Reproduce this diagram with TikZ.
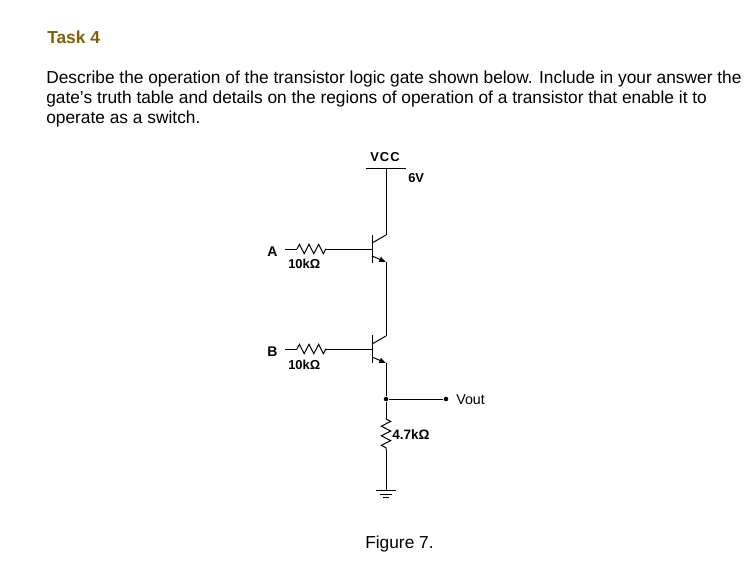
\documentclass[tikz,border=0pt]{standalone}
\usepackage{fontspec}
\setmainfont{Liberation Sans}
\usetikzlibrary{positioning, arrows.meta, decorations.pathmorphing}
\definecolor{taskbrown}{HTML}{806000}
\tikzset{
  para/.style={anchor=base west, inner sep=0pt, font=\fontsize{13}{15}\selectfont},
  partlabel/.style={anchor=base west, inner sep=0pt, font=\fontsize{9.7}{11}\selectfont\bfseries},
  wire/.style={line width=0.75pt},
  emitter/.style={wire, -{Latex[length=5pt, width=4.5pt]}},
  resistor/.style={wire, decorate, decoration={zigzag, amplitude=3.5pt, segment length=7.2pt}},
  dot/.style={circle, fill=black, inner sep=0pt, minimum size=3.4pt}
}
\begin{document}
\begin{tikzpicture}[x=0.75pt, y=-0.75pt]
  \useasboundingbox (0,0) rectangle (750,568);
  \node[para, text=taskbrown, font=\fontsize{13}{15}\selectfont\bfseries] (task) at (47,43) {Task 4};
  \node[para] (line1) at (46,83) {Describe the operation of the transistor logic gate shown below. Include in your answer the};
  \node[para] (line2) at (46,103) {gate’s truth table and details on the regions of operation of a transistor that enable it to};
  \node[para] (line3) at (46,123) {operate as a switch.};

  % supply rail
  \coordinate (railL) at (366,168);
  \coordinate (railR) at (406,168);
  \coordinate (rail) at (386,168);
  \draw[wire] (railL) -- (railR);
  \node[partlabel, font=\fontsize{9.7}{11}\selectfont\bfseries\addfontfeature{LetterSpace=8}] (vcc) at (370,161) {VCC};
  \node[partlabel] (six) at (408,182) {6V};

  % upper transistor
  \coordinate (Ain) at (285,249);
  \coordinate (Ar1) at (297,249);
  \coordinate (Ar2) at (326,249);
  \coordinate (Abase) at (372,249);
  \coordinate (Abt) at (372,235);
  \coordinate (Abb) at (372,263);
  \coordinate (Ac0) at (372,243);
  \coordinate (Ac) at (386,235);
  \coordinate (Ae0) at (372,256);
  \coordinate (Ae) at (386,262);
  \node[partlabel, font=\fontsize{10.5}{12}\selectfont\bfseries] (A) at (267,256) {A};
  \node[partlabel] (RA) at (288,268) {10kΩ};
  \draw[wire] (Ain) -- (Ar1);
  \draw[resistor] (Ar1) -- (Ar2);
  \draw[wire] (Ar2) -- (Abase);
  \draw[wire] (Abt) -- (Abb);
  \draw[wire] (Ac0) -- (Ac);
  \draw[emitter] (Ae0) -- (Ae);
  \draw[wire] (rail) -- (Ac);

  % lower transistor
  \coordinate (Bin) at (285,349);
  \coordinate (Br1) at (297,349);
  \coordinate (Br2) at (326,349);
  \coordinate (Bbase) at (372,349);
  \coordinate (Bbt) at (372,335);
  \coordinate (Bbb) at (372,363);
  \coordinate (Bc0) at (372,344);
  \coordinate (Bc) at (386,336);
  \coordinate (Be0) at (372,357);
  \coordinate (Be) at (386,363);
  \node[partlabel, font=\fontsize{10.5}{12}\selectfont\bfseries] (B) at (267,356) {B};
  \node[partlabel] (RB) at (288,369) {10kΩ};
  \draw[wire] (Bin) -- (Br1);
  \draw[resistor] (Br1) -- (Br2);
  \draw[wire] (Br2) -- (Bbase);
  \draw[wire] (Bbt) -- (Bbb);
  \draw[wire] (Bc0) -- (Bc);
  \draw[emitter] (Be0) -- (Be);
  \draw[wire] (Ae) -- (Bc);

  % output and load
  \node[dot] (junction) at (386,399) {};
  \node[dot] (outdot) at (446,399) {};
  \node[para, font=\fontsize{10.7}{12}\selectfont] (vout) at (456,404) {Vout};
  \coordinate (Rl1) at (386,419);
  \coordinate (Rl2) at (386,450);
  \coordinate (gnd) at (386,490);
  \draw[wire] (Be) -- (junction);
  \draw[wire] (junction) -- (outdot);
  \draw[wire] (junction) -- (Rl1);
  \draw[resistor] (Rl1) -- (Rl2);
  \draw[wire] (Rl2) -- (gnd);
  \node[partlabel, font=\fontsize{10.2}{11}\selectfont\bfseries] (RL) at (392,439) {4.7kΩ};

  % ground
  \coordinate (g1a) at (376,490);
  \coordinate (g1b) at (396,490);
  \coordinate (g2a) at (380,494);
  \coordinate (g2b) at (392,494);
  \coordinate (g3a) at (383,497);
  \coordinate (g3b) at (389,497);
  \draw[wire] (g1a) -- (g1b);
  \draw[wire] (g2a) -- (g2b);
  \draw[wire] (g3a) -- (g3b);

  \node[para] (fig) at (365,548) {Figure 7.};
\end{tikzpicture}
\end{document}
